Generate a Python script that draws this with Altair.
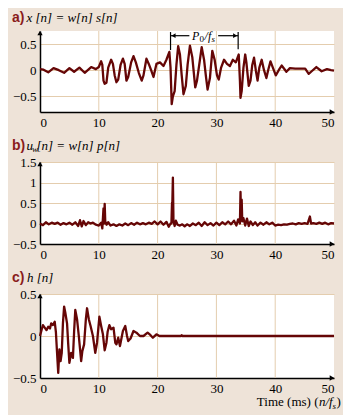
import altair as alt
import pandas as pd

# ---------------- data ----------------
a_t = [0.0, 0.6, 1.4, 2.3, 3.2, 4.1, 5.0, 5.8, 6.7, 7.6, 8.7, 9.5, 10.0, 10.4, 10.6, 10.8, 11.0, 11.3, 11.6,
       12.1, 12.4, 12.7, 13.0, 13.3, 13.7, 14.1, 14.4, 14.7, 15.0, 15.5, 15.9, 16.3, 16.8, 17.3, 17.6, 18.1,
       18.5, 18.9, 19.3, 19.8, 20.4, 21.0, 21.5, 22.0, 22.2, 22.4, 22.6, 22.9, 23.2, 23.5, 23.8, 24.1, 24.4,
       24.8, 25.1, 25.5, 25.9, 26.4, 26.7, 27.2, 27.5, 27.9, 28.2, 28.5, 28.9, 29.3, 29.7, 30.1, 30.4, 30.8,
       31.3, 31.8, 32.3, 32.8, 33.3, 33.8, 34.0, 34.1, 34.3, 34.6, 34.9, 35.1, 35.5, 35.8, 36.1, 36.4, 36.7,
       37.0, 37.3, 37.7, 38.1, 38.5, 38.8, 39.2, 39.6, 40.1, 40.6, 41.1, 41.9, 42.5, 43.4, 44.2, 45.1, 45.7,
       46.2, 47.0, 47.9, 48.8, 49.5, 50.0]
a_v = [0.02, 0.01, -0.04, 0.04, 0.0, -0.05, 0.04, -0.03, 0.05, -0.05, 0.06, 0.02, 0.06, 0.17, 0.1, -0.2, -0.26,
       -0.24, 0.05, 0.2, 0.12, -0.1, -0.23, -0.18, 0.1, 0.22, 0.12, -0.2, -0.13, 0.15, 0.27, 0.15, -0.05, -0.2,
       -0.1, 0.22, 0.12, 0.0, -0.13, 0.12, 0.15, 0.08, 0.2, 0.35, 0.05, -0.65, -0.5, -0.4, 0.1, 0.46, 0.3, -0.1,
       -0.46, -0.3, 0.1, 0.47, 0.25, -0.33, -0.2, 0.2, 0.44, 0.2, -0.1, -0.37, -0.15, 0.37, 0.2, -0.1, -0.18,
       0.05, 0.2, 0.12, 0.08, 0.2, 0.15, 0.3, -0.2, -0.53, -0.4, 0.05, 0.3, 0.15, -0.3, -0.2, 0.1, 0.24, 0.0,
       -0.2, 0.05, 0.2, 0.0, -0.15, 0.0, 0.17, 0.05, -0.1, 0.0, 0.09, -0.03, 0.04, 0.03, 0.03, 0.03, -0.07,
       -0.02, 0.06, -0.02, 0.02, 0.0, -0.01]

b_t = [0.0, 0.5, 1.0, 1.5, 2.0, 2.5, 3.0, 3.5, 4.0, 4.5, 5.0, 5.5, 6.0, 6.5, 6.8, 7.1, 7.4, 7.8, 8.2, 8.6, 9.0,
       9.5, 10.0, 10.4, 10.6, 10.8, 10.9, 11.0, 11.1, 11.3, 11.6, 12.0, 12.5, 13.0, 13.5, 14.0, 14.5, 15.0,
       15.5, 16.0, 16.5, 17.0, 17.5, 18.0, 18.5, 19.0, 19.5, 20.0, 20.5, 21.0, 21.5, 21.9, 22.2, 22.35, 22.45,
       22.5, 22.6, 22.7, 22.9, 23.1, 23.4, 23.8, 24.2, 24.6, 25.0, 25.5, 26.0, 26.5, 27.0, 27.5, 28.0, 28.5,
       29.0, 29.5, 30.0, 30.5, 31.0, 31.5, 32.0, 32.5, 33.0, 33.4, 33.7, 34.0, 34.1, 34.2, 34.3, 34.4, 34.6,
       34.9, 35.2, 35.5, 35.8, 36.2, 36.6, 37.0, 37.5, 38.0, 38.5, 39.0, 39.5, 40.0, 40.5, 41.0, 41.5, 42.0,
       42.5, 43.0, 43.5, 44.0, 44.5, 45.0, 45.5, 45.9, 46.1, 46.5, 47.0, 47.5, 48.0, 48.5, 49.0, 49.5, 50.0]
b_v = [0.0, -0.04, 0.03, -0.02, 0.02, -0.01, 0.02, -0.03, 0.01, -0.02, 0.02, -0.03, 0.03, -0.06, 0.08, -0.07,
       0.06, -0.04, 0.03, 0.0, 0.02, -0.03, -0.05, 0.02, -0.12, 0.37, 0.0, 0.48, 0.05, -0.03, 0.03, -0.05,
       -0.02, -0.06, -0.02, -0.05, 0.0, -0.04, 0.01, -0.03, 0.02, -0.02, 0.01, -0.02, 0.02, -0.01, 0.05, -0.02,
       0.05, -0.03, 0.04, -0.08, 0.0, 0.0, 0.5, 0.45, 1.12, 0.05, -0.06, 0.07, -0.03, -0.05, -0.02, -0.07,
       -0.02, -0.06, 0.0, -0.04, 0.02, -0.06, 0.03, -0.04, 0.01, -0.05, 0.02, -0.04, 0.03, -0.02, 0.05, -0.02,
       0.07, -0.05, 0.1, 0.0, 0.77, 0.1, 0.58, 0.05, 0.13, -0.05, 0.12, -0.06, 0.05, -0.04, 0.03, -0.05, 0.02,
       -0.03, 0.03, -0.02, 0.02, -0.05, -0.03, -0.04, -0.02, -0.03, -0.01, 0.0, -0.02, 0.01, -0.01, 0.01,
       -0.01, 0.17, 0.0, 0.01, -0.01, 0.02, -0.01, 0.02, -0.02, 0.01, 0.0]

c_t = [0.0, 0.3, 0.5, 0.8, 1.1, 1.4, 1.7, 1.9, 2.2, 2.5, 2.7, 2.9, 3.1, 3.3, 3.5, 3.7, 3.9, 4.1, 4.3, 4.6, 4.8,
       5.0, 5.3, 5.6, 5.8, 6.0, 6.3, 6.6, 7.0, 7.2, 7.5, 7.8, 8.0, 8.3, 8.6, 9.0, 9.4, 9.7, 10.1, 10.4, 10.7,
       11.0, 11.3, 11.5, 11.8, 12.1, 12.5, 12.8, 13.0, 13.3, 13.6, 14.1, 14.5, 14.8, 15.0, 15.4, 15.9, 16.4,
       17.0, 17.6, 18.3, 18.8, 19.2, 19.8, 20.3, 21.3, 24.0, 24.1, 24.2, 34.5, 45.0, 50.0]
c_v = [0.0, 0.08, 0.13, 0.1, 0.07, 0.11, 0.09, 0.15, 0.13, 0.17, 0.05, -0.2, -0.44, -0.16, -0.3, -0.2, 0.15,
       0.35, 0.28, 0.15, -0.1, -0.32, -0.2, -0.26, 0.05, 0.31, 0.2, 0.0, -0.3, -0.18, -0.1, 0.2, 0.33, 0.2,
       0.12, 0.0, -0.2, -0.08, 0.23, 0.12, 0.02, -0.17, -0.08, 0.05, 0.13, 0.08, 0.1, -0.08, -0.1, -0.02,
       -0.12, 0.06, 0.12, 0.0, -0.06, -0.03, 0.06, 0.04, 0.0, 0.0, 0.04, 0.01, -0.02, 0.02, 0.0, 0.0, 0.0,
       0.01, 0.0, 0.0, 0.0, 0.0]

x_ticks = [0, 10, 20, 30, 40, 50]
grid_x = [10, 20, 30, 40]
a_yticks, a_domain = [-0.5, 0, 0.5], [-0.8, 0.75]
b_yticks, b_domain = [-0.5, 0, 0.5, 1, 1.5], [-0.5, 1.5]
c_yticks, c_domain = [-0.5, 0, 0.5], [-0.5, 0.5]

# period marker P0/fs in panel a
period_t = [22.2, 33.7]
period_low = [0.385, 0.40]
period_high = [0.73, 0.73]
period_arrow_y = 0.66
period_seg_t = [22.2, 30.3]
period_seg_t2 = [25.4, 33.7]
period_label_t = 27.9

# ---------------- styling ----------------
W = 294
LINE = "#650606"
GRID = "#E4CDAE"
BG = "#EEE3D8"
RED = "#8A1C1C"
SERIF = "Liberation Serif"
SANS = "Liberation Sans"

xscale = alt.Scale(domain=[0, 50], nice=False, zero=False)
XAXIS = alt.Axis(values=x_ticks, grid=False, title=None, labelPadding=4, format="d")
one = pd.DataFrame({"d": [0]})


def X(field):
    return alt.X(field, scale=xscale, axis=XAXIS, title=None)


def txt(s, x, y, font=SERIF, size=13, style="italic", weight="normal", color="black", align="left",
        baseline="middle"):
    return alt.Chart(one).mark_text(text=s, font=font, fontSize=size, fontStyle=style, fontWeight=weight,
                                    color=color, align=align, baseline=baseline).encode(
        x=alt.value(x), y=alt.value(y))


def make_y(domain, yticks):
    yscale = alt.Scale(domain=domain, nice=False, zero=False)
    yaxis = alt.Axis(values=yticks, grid=True, title=None, labelPadding=4, format="~g")

    def Y(field):
        return alt.Y(field, scale=yscale, axis=yaxis, title=None)
    return Y


def panel(t, v, Y, H, texts, extra=None):
    df = pd.DataFrame({"t": t, "v": v})
    line = alt.Chart(df).mark_line(color=LINE, strokeWidth=2.3, strokeJoin="round").encode(
        x=X("t:Q"), y=Y("v:Q"))
    vgrid = alt.Chart(pd.DataFrame({"g": grid_x})).mark_rule(color=GRID, strokeWidth=1).encode(
        x=X("g:Q"))
    up = alt.Chart(one).mark_point(shape="triangle-up", size=28, filled=True, color="black",
                                   opacity=1).encode(x=alt.value(0), y=alt.value(2))
    right = alt.Chart(one).mark_point(shape="triangle-right", size=28, filled=True, color="black",
                                      opacity=1).encode(x=alt.value(W - 2), y=alt.value(H))
    layers = [vgrid, line] + (extra or []) + [up, right] + texts
    return alt.layer(*layers).properties(width=W, height=H)


Ya = make_y(a_domain, a_yticks)
Yb = make_y(b_domain, b_yticks)
Yc = make_y(c_domain, c_yticks)

# panel a extras: the P0/fs period marker
per = pd.DataFrame({"t": period_t, "lo": period_low, "hi": period_high})
per_v = alt.Chart(per).mark_rule(color="black", strokeWidth=1.2).encode(
    x=X("t:Q"), y=Ya("lo:Q"), y2="hi:Q")
seg = pd.DataFrame({"t": period_seg_t, "t2": period_seg_t2, "y": [period_arrow_y] * 2})
per_h = alt.Chart(seg).mark_rule(color="black", strokeWidth=1.2).encode(
    x=X("t:Q"), x2="t2:Q", y=Ya("y:Q"))
heads = pd.DataFrame({"t": period_t, "y": [period_arrow_y] * 2})
head_l = alt.Chart(heads.iloc[[0]]).mark_point(shape="triangle-left", size=22, filled=True, color="black",
                                               opacity=1, xOffset=3).encode(x=X("t:Q"), y=Ya("y:Q"))
head_r = alt.Chart(heads.iloc[[1]]).mark_point(shape="triangle-right", size=22, filled=True, color="black",
                                               opacity=1, xOffset=-3).encode(x=X("t:Q"), y=Ya("y:Q"))
lab = pd.DataFrame({"t": [period_label_t], "y": [period_arrow_y]})


def plabel(s, dx, dy, size=12, style="italic"):
    return alt.Chart(lab).mark_text(text=s, font=SERIF, fontSize=size, fontStyle=style, align="left",
                                    baseline="middle", dx=dx, dy=dy).encode(x=X("t:Q"), y=Ya("y:Q"))


plab = [plabel("P", -12, 0), plabel("0", -4.5, 3, 9, "normal"), plabel("/f", 0.5, 0),
        plabel("s", 7.5, 3, 9)]

Ha, Hb, Hc = 81, 82, 84
pa = panel(a_t, a_v, Ya, Ha,
           [txt("a)", -28, -13.5, font=SANS, size=14, style="normal", weight="bold", color=RED),
            txt("x [n] = w[n] s[n]", -13.5, -13.5)],
           [per_v, per_h, head_l, head_r] + plab)
pb = panel(b_t, b_v, Yb, Hb,
           [txt("b)", -28, -16.5, font=SANS, size=14, style="normal", weight="bold", color=RED),
            txt("u", -13.5, -16.5), txt("w", -8, -13, size=9),
            txt("[n] = w[n] p[n]", -3.5, -16.5)])
pc = panel(c_t, c_v, Yc, Hc,
           [txt("c)", -28, -16, font=SANS, size=14, style="normal", weight="bold", color=RED),
            txt("h [n]", -13, -16),
            txt("Time (ms) (", 278.5, 112, style="normal", align="right", baseline="alphabetic"),
            txt("n/f", 279, 112, baseline="alphabetic"),
            txt("s", 292.5, 115, size=9, baseline="alphabetic"),
            txt(")", 296.5, 112, style="normal", baseline="alphabetic")])

chart = alt.vconcat(pa, pb, pc, spacing=50, bounds="flush").properties(
    padding={"left": 4, "top": 2, "right": 2, "bottom": 4}
).configure(background=BG).configure_view(stroke=None, fill="white").configure_axis(
    domainColor="black", domainWidth=1.5, ticks=False, labelFont=SERIF, labelFontSize=13,
    labelColor="black", gridColor=GRID, gridWidth=1
)

chart.save("out.html", embed_options={"renderer": "svg", "actions": False})
